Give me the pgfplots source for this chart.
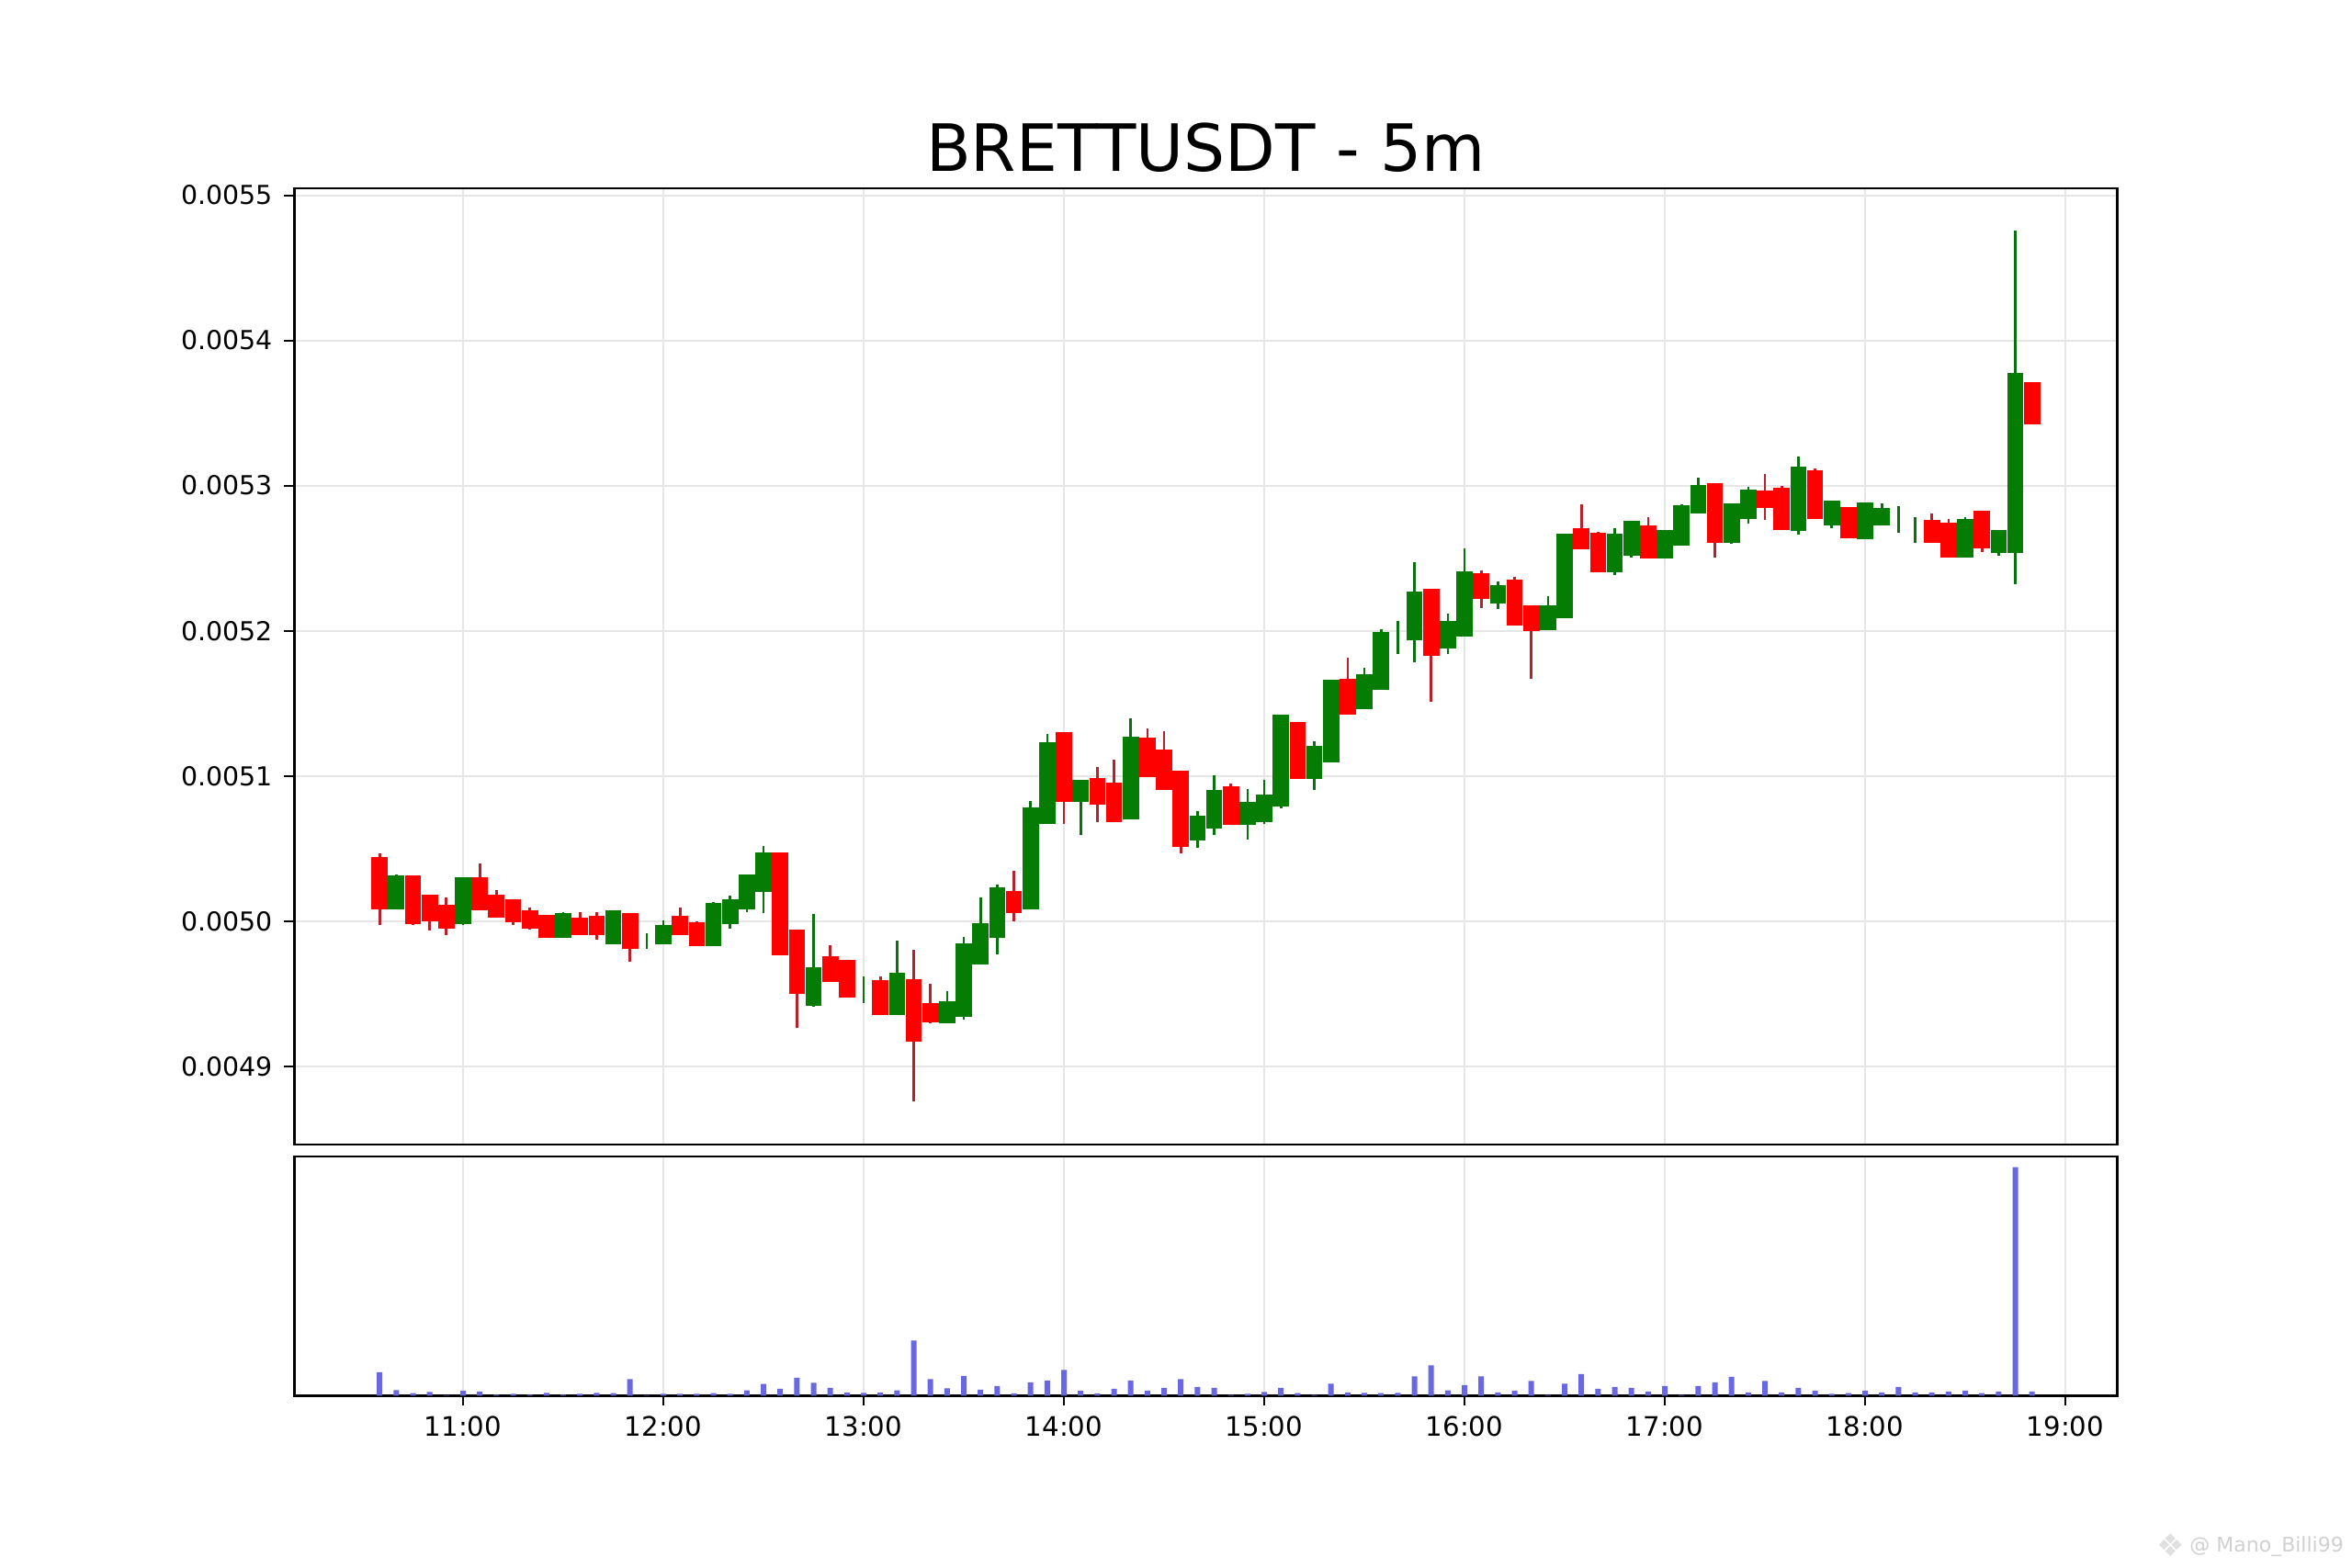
\documentclass[border=0pt]{standalone}
\usepackage{fontspec}
\setmainfont{DejaVu Sans}
\usepackage{pgfplots}
\usepackage{pgfplotstable}
\pgfplotsset{compat=1.18}
\definecolor{bodyred}{RGB}{255,0,0}
\definecolor{bodygreen}{RGB}{5,125,5}
\definecolor{wickred}{RGB}{184,32,44}
\definecolor{wickgreen}{RGB}{10,112,16}
\definecolor{gridc}{RGB}{230,230,230}
\definecolor{volc}{RGB}{104,104,228}
% t = minutes after 10:00
\pgfplotstableread{
t open high low close
35 0.0050443 0.0050464 0.0049975 0.0050082
45 0.0050314 0.0050314 0.0049975 0.0049981
50 0.0050179 0.0050179 0.0049932 0.0049996
55 0.0050112 0.0050162 0.0049903 0.0049949
65 0.0050304 0.0050399 0.0050074 0.0050074
70 0.0050179 0.0050211 0.0050025 0.0050025
75 0.0050150 0.0050150 0.0049975 0.0049992
80 0.0050074 0.0050091 0.0049943 0.0049949
85 0.0050040 0.0050040 0.0049886 0.0049886
95 0.0050025 0.0050059 0.0049903 0.0049903
100 0.0050036 0.0050059 0.0049873 0.0049903
110 0.0050053 0.0050053 0.0049721 0.0049810
125 0.0050036 0.0050091 0.0049903 0.0049903
130 0.0049994 0.0049998 0.0049825 0.0049825
155 0.0050475 0.0050475 0.0049764 0.0049764
160 0.0049943 0.0049943 0.0049261 0.0049500
170 0.0049755 0.0049835 0.0049582 0.0049582
175 0.0049732 0.0049732 0.0049475 0.0049475
185 0.0049591 0.0049620 0.0049354 0.0049354
195 0.0049599 0.0049800 0.0048755 0.0049171
200 0.0049435 0.0049565 0.0049293 0.0049304
225 0.0050207 0.0050348 0.0049998 0.0050057
240 0.0051304 0.0051304 0.0050671 0.0050823
250 0.0050985 0.0051059 0.0050684 0.0050804
255 0.0050954 0.0051112 0.0050684 0.0050684
265 0.0051264 0.0051329 0.0050994 0.0050994
270 0.0051182 0.0051308 0.0050905 0.0050905
275 0.0051036 0.0051036 0.0050464 0.0050513
290 0.0050928 0.0050947 0.0050665 0.0050665
310 0.0051372 0.0051372 0.0050981 0.0050981
325 0.0051667 0.0051812 0.0051420 0.0051420
350 0.0052289 0.0052289 0.0051511 0.0051827
365 0.0052397 0.0052414 0.0052156 0.0052220
375 0.0052350 0.0052374 0.0052038 0.0052038
380 0.0052177 0.0052177 0.0051667 0.0051998
395 0.0052707 0.0052869 0.0052559 0.0052559
400 0.0052675 0.0052680 0.0052401 0.0052401
415 0.0052726 0.0052785 0.0052498 0.0052498
435 0.0053019 0.0053019 0.0052504 0.0052603
450 0.0052966 0.0053078 0.0052766 0.0052844
455 0.0052987 0.0052998 0.0052696 0.0052696
465 0.0053108 0.0053116 0.0052768 0.0052768
475 0.0052854 0.0052854 0.0052635 0.0052635
500 0.0052766 0.0052808 0.0052603 0.0052603
505 0.0052745 0.0052768 0.0052506 0.0052506
515 0.0052827 0.0052827 0.0052544 0.0052565
530 0.0053713 0.0053713 0.0053424 0.0053424
}\redcandles
\pgfplotstableread{
t open high low close
40 0.0050082 0.0050321 0.0050082 0.0050314
60 0.0049979 0.0050304 0.0049975 0.0050304
90 0.0049886 0.0050059 0.0049886 0.0050055
105 0.0049842 0.0050074 0.0049842 0.0050074
115 0.0049860 0.0049916 0.0049810 0.0049860
120 0.0049842 0.0050006 0.0049842 0.0049973
135 0.0049825 0.0050129 0.0049825 0.0050124
140 0.0049981 0.0050177 0.0049949 0.0050150
145 0.0050082 0.0050321 0.0050063 0.0050321
150 0.0050203 0.0050519 0.0050057 0.0050475
165 0.0049418 0.0050049 0.0049411 0.0049681
180 0.0049530 0.0049620 0.0049432 0.0049530
190 0.0049354 0.0049867 0.0049354 0.0049641
205 0.0049293 0.0049515 0.0049293 0.0049445
210 0.0049342 0.0049888 0.0049323 0.0049846
215 0.0049702 0.0050162 0.0049702 0.0049983
220 0.0049886 0.0050249 0.0049772 0.0050232
230 0.0050082 0.0050825 0.0050082 0.0050783
235 0.0050671 0.0051289 0.0050671 0.0051232
245 0.0050823 0.0050975 0.0050595 0.0050975
260 0.0050703 0.0051397 0.0050703 0.0051272
280 0.0050555 0.0050757 0.0050506 0.0050726
285 0.0050635 0.0051006 0.0050595 0.0050903
295 0.0050665 0.0050909 0.0050563 0.0050819
300 0.0050684 0.0050973 0.0050671 0.0050871
305 0.0050791 0.0051424 0.0050774 0.0051424
315 0.0050981 0.0051239 0.0050901 0.0051207
320 0.0051095 0.0051663 0.0051095 0.0051663
330 0.0051460 0.0051745 0.0051460 0.0051698
335 0.0051591 0.0052013 0.0051591 0.0051990
340 0.0051950 0.0052070 0.0051838 0.0051950
345 0.0051937 0.0052473 0.0051781 0.0052268
355 0.0051878 0.0052120 0.0051838 0.0052068
360 0.0051960 0.0052566 0.0051960 0.0052407
370 0.0052188 0.0052340 0.0052152 0.0052317
385 0.0052006 0.0052241 0.0052006 0.0052177
390 0.0052089 0.0052667 0.0052089 0.0052667
405 0.0052401 0.0052705 0.0052386 0.0052667
410 0.0052517 0.0052758 0.0052507 0.0052758
420 0.0052496 0.0052696 0.0052496 0.0052696
425 0.0052589 0.0052871 0.0052589 0.0052863
430 0.0052806 0.0053055 0.0052806 0.0053006
440 0.0052603 0.0052876 0.0052597 0.0052876
445 0.0052768 0.0052989 0.0052736 0.0052975
460 0.0052686 0.0053200 0.0052665 0.0053131
470 0.0052726 0.0052899 0.0052705 0.0052894
480 0.0052629 0.0052884 0.0052629 0.0052884
485 0.0052726 0.0052878 0.0052726 0.0052846
490 0.0052770 0.0052859 0.0052675 0.0052770
495 0.0052700 0.0052783 0.0052603 0.0052700
510 0.0052506 0.0052783 0.0052506 0.0052770
520 0.0052538 0.0052696 0.0052517 0.0052696
525 0.0052538 0.0054758 0.0052318 0.0053778
}\greencandles
\pgfplotstableread{
t vol
35 25.3
40 6
45 2.7
50 4
55 0.4
60 5.3
65 4.3
70 1
75 2
80 1
85 3
90 1
95 2
100 3
105 2.7
110 18
115 0.4
120 2
125 2
130 2
135 2.7
140 2
145 5.7
150 12.7
155 7.3
160 19.3
165 14
170 8.3
175 3.3
180 3
185 3.3
190 5.7
195 60
200 18
205 8
210 21.3
215 6.3
220 10.3
225 2.3
230 14.3
235 16.3
240 28
245 5.3
250 2.3
255 7.3
260 16.3
265 5.3
270 8.3
275 18
280 9.3
285 8.3
290 0.7
295 2
300 4
305 8.3
310 2.7
315 0.7
320 13
325 3.3
330 3
335 2.7
340 3
345 21
350 33
355 5.7
360 11.3
365 21
370 3.3
375 5.3
380 16
385 0.7
390 13
395 23.3
400 7.3
405 9.3
410 8.3
415 4.3
420 10.3
425 0.7
430 10.3
435 14.3
440 20.3
445 3.3
450 16
455 3.3
460 8.3
465 5.3
470 2
475 2.7
480 5.3
485 3.3
490 9.3
495 3.3
500 3.3
505 4.3
510 5.3
515 2.7
520 4.3
525 248.6
530 4.3
}\voltable
\pgfplotsset{
  commonaxis/.style={
    scale only axis,
    width=992.2bp,
    xmin=9.44, xmax=555.6,
    xtick={60,120,180,240,300,360,420,480,540},
    axis line style={black,line width=1.3bp},
    tick style={black,line width=1.1bp},
    major tick length=5.5bp,
    tick align=outside,
    xmajorgrids,
    major grid style={gridc,line width=1.1bp},
    xticklabel style={font=\fontsize{14.6bp}{16bp}\selectfont},
    yticklabel style={font=\fontsize{14.2bp}{16bp}\selectfont},
    scaled y ticks=false,
  },
  wick/.style={draw=none,mark=none,forget plot,
    error bars/.cd,y dir=plus,y explicit,error mark=none,
    error bar style={draw=#1,solid,line width=1.35bp}},
  bodydown/.style={draw=none,mark=none,forget plot,
    error bars/.cd,y dir=minus,y explicit,error mark=none,
    error bar style={draw=#1,solid,line width=8.85bp}},
  bodyup/.style={draw=none,mark=none,forget plot,
    error bars/.cd,y dir=plus,y explicit,error mark=none,
    error bar style={draw=#1,solid,line width=8.85bp}},
}
\begin{document}
\begin{tikzpicture}[x=1bp,y=1bp]
\path[use as bounding box,fill=white] (0,0) rectangle (1280,853.5);
\begin{axis}[commonaxis,
  at={(160.15bp,230.5bp)},anchor=south west,
  height=520.5bp,
  ymin=0.00484601,ymax=0.00550487,
  ytick={0.0049,0.0050,0.0051,0.0052,0.0053,0.0054,0.0055},
  yticklabels={0.0049,0.0050,0.0051,0.0052,0.0053,0.0054,0.0055},
  xticklabels={},
  x tick style={draw=none},
  ymajorgrids,
  xtick pos=bottom, ytick pos=left,
  yticklabel style={inner sep=0pt,xshift=-6bp},
]
\addplot[wick=wickred] table[x=t,y=low,y error plus expr=\thisrow{high}-\thisrow{low}] {\redcandles};
\addplot[wick=wickgreen] table[x=t,y=low,y error plus expr=\thisrow{high}-\thisrow{low}] {\greencandles};
\addplot[bodydown=bodyred] table[x=t,y=open,y error minus expr=\thisrow{open}-\thisrow{close}] {\redcandles};
\addplot[bodyup=bodygreen] table[x=t,y=open,y error plus expr=\thisrow{close}-\thisrow{open}] {\greencandles};
\end{axis}
\begin{axis}[commonaxis,
  at={(160.15bp,93.85bp)},anchor=south west,
  height=130.15bp,
  ymin=0,ymax=260.3,
  ytick=\empty,
  xticklabels={11:00,12:00,13:00,14:00,15:00,16:00,17:00,18:00,19:00},
  xtick pos=bottom,
  xticklabel style={inner sep=0pt,yshift=-5.5bp},
]
\addplot[ybar,bar width=3bp,bar shift=0pt,fill=volc,draw=none] table[x=t,y=vol] {\voltable};
\end{axis}
\node[anchor=base,font=\fontsize{35.5bp}{40bp}\selectfont,inner sep=0pt] at (656.25,760) {BRETTUSDT - 5m};
\node[anchor=base west,font=\fontsize{11bp}{13bp}\selectfont,text=black!18,inner sep=0pt] at (1191.5,8.5) {@ Mano\_Billi99};
\node[anchor=center,font=\fontsize{17bp}{17bp}\selectfont,text=black!12,inner sep=0pt] at (1181.5,12.5) {❖};
\end{tikzpicture}
\end{document}
